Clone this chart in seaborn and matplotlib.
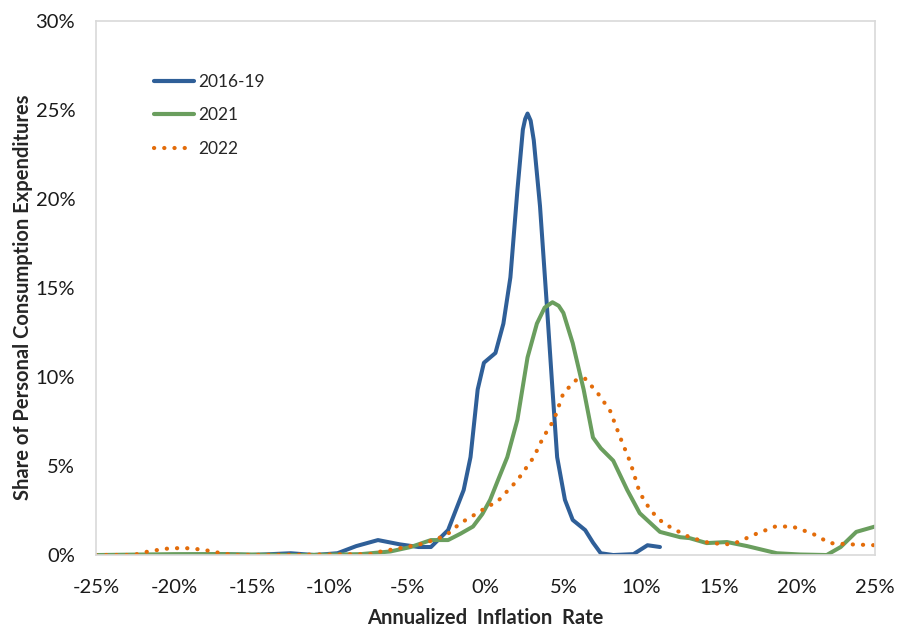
import matplotlib
matplotlib.use("Agg")
import matplotlib.pyplot as plt
import seaborn as sns
import pandas as pd
from matplotlib.ticker import FuncFormatter, MultipleLocator

# ---- data (percent) ----
x_1619 = [-25, -20, -17, -15, -12.5, -11, -9.5, -8.3, -6.9, -5.5, -4.3, -3.5, -2.4, -1.4, -0.96, -0.5, -0.1,
          0.64, 1.15, 1.6, 2.05, 2.4, 2.55, 2.7, 2.9, 3.1, 3.5, 3.95, 4.3, 4.6, 5.1, 5.6, 6.4, 6.9, 7.4, 8.2, 9.5, 10.4, 11.2]
y_1619 = [0.0, 0.0, 0.05, 0.0, 0.1, 0.0, 0.1, 0.5, 0.84, 0.6, 0.45, 0.45, 1.4, 3.65, 5.5, 9.3, 10.8,
          11.35, 13.0, 15.6, 20.5, 23.9, 24.5, 24.8, 24.4, 23.3, 19.6, 13.9, 9.3, 5.5, 3.1, 1.97, 1.4, 0.7, 0.1, 0.0, 0.05, 0.55, 0.45]

x_2021 = [-25, -20, -17, -12, -8, -6.1, -4.8, -3.5, -2.4, -1.6, -0.8, -0.2, 0.3, 0.8, 1.4, 2.05, 2.7, 3.3, 3.8, 4.3, 4.7, 5.0,
          5.6, 6.3, 6.9, 7.4, 8.2, 9.1, 9.9, 11.2, 12.5, 13.1, 14.2, 15.5, 16.8, 18.7, 20.2, 21.9, 22.8, 23.8, 25.0]
y_2021 = [0.0, 0.05, 0.05, 0.0, 0.05, 0.2, 0.45, 0.84, 0.84, 1.2, 1.6, 2.3, 3.1, 4.2, 5.5, 7.6, 11.1, 13.0, 13.9, 14.2, 14.0, 13.6,
          11.9, 9.3, 6.6, 6.0, 5.3, 3.65, 2.35, 1.3, 1.0, 0.95, 0.67, 0.73, 0.5, 0.1, 0.03, 0.0, 0.45, 1.3, 1.6]

x_2022 = [-25, -22.6, -21.8, -20.6, -19.4, -18.1, -17.4, -16.2, -12, -7.4, -6.7, -5.4, -4.2, -3.1, -2.4, -1.6, -1.0, -0.45,
          0.2, 0.77, 2.05, 3.1, 3.7, 4.4, 5.0, 5.9, 6.4, 7.2, 8.0, 8.65, 9.3, 9.9, 10.6, 11.4, 12.1, 13.1, 14.4, 15.7,
          16.2, 17.4, 18.6, 19.7, 21.0, 22.1, 23.4, 24.7, 25.0]
y_2022 = [0.0, 0.0, 0.17, 0.35, 0.4, 0.3, 0.17, 0.0, 0.02, 0.05, 0.2, 0.4, 0.6, 0.9, 1.2, 1.8, 2.1, 2.4,
          2.75, 3.0, 4.2, 5.5, 6.6, 7.6, 9.1, 9.9, 9.9, 9.1, 8.1, 6.6, 5.2, 3.5, 2.5, 1.8, 1.45, 1.0, 0.67, 0.6,
          0.73, 1.2, 1.6, 1.6, 1.2, 0.67, 0.6, 0.56, 0.55]

series_names = ["2016-19", "2021", "2022"]
colors = {"2016-19": "#2F5F98", "2021": "#6A9E5E", "2022": "#E36C0A"}

df = pd.concat([
    pd.DataFrame({"x": x_1619, "y": y_1619, "series": "2016-19"}),
    pd.DataFrame({"x": x_2021, "y": y_2021, "series": "2021"}),
    pd.DataFrame({"x": x_2022, "y": y_2022, "series": "2022"}),
], ignore_index=True)

sns.set_theme(style="white")
plt.rcParams["font.family"] = ["Lato", "DejaVu Sans"]

fig = plt.figure(figsize=(9.07, 6.32), dpi=100)
ax = fig.add_axes([0.1058, 0.1218, 0.8589, 0.845])

for name in series_names:
    sub = df[df["series"] == name]
    sns.lineplot(data=sub, x="x", y="y", ax=ax, color=colors[name], linewidth=2.9,
                 label=name, sort=False, estimator=None)
    if name == "2022":
        ln = ax.lines[-1]
        ln.set_linewidth(3.0)
        ln.set_dashes((0.05, 2.4))
        ln.set_dash_capstyle("round")

ax.set_xlim(-25, 25)
ax.set_ylim(0, 30)
ax.xaxis.set_major_locator(MultipleLocator(5))
ax.yaxis.set_major_locator(MultipleLocator(5))
ax.xaxis.set_major_formatter(FuncFormatter(lambda v, p: f"{int(round(v))}%"))
ax.yaxis.set_major_formatter(FuncFormatter(lambda v, p: f"{int(round(v))}%"))
ax.tick_params(axis="both", which="major", direction="in", length=5, width=1, color="#D9D9D9",
               labelsize=14.5, labelcolor="#1a1a1a")
ax.tick_params(axis="x", pad=17)
ax.tick_params(axis="y", pad=15)
for s in ax.spines.values():
    s.set_color("#D9D9D9")
    s.set_linewidth(1.2)
ax.grid(False)

ax.set_xlabel("Annualized  Inflation  Rate", fontsize=14.5, fontweight="bold")
ax.set_ylabel("Share of Personal Consumption Expenditures", fontsize=14.5, fontweight="bold")
ax.xaxis.set_label_coords(0.5, -0.099)
ax.yaxis.set_label_coords(-0.081, 0.483)

leg = ax.legend(loc="upper left", bbox_to_anchor=(0.055, 0.93), frameon=False, fontsize=12.5,
                handlelength=2.3, handletextpad=0.25, labelspacing=1.0)
for h in leg.get_lines():
    h.set_linewidth(3.0)

fig.savefig("out.png", dpi=100, facecolor="white")
